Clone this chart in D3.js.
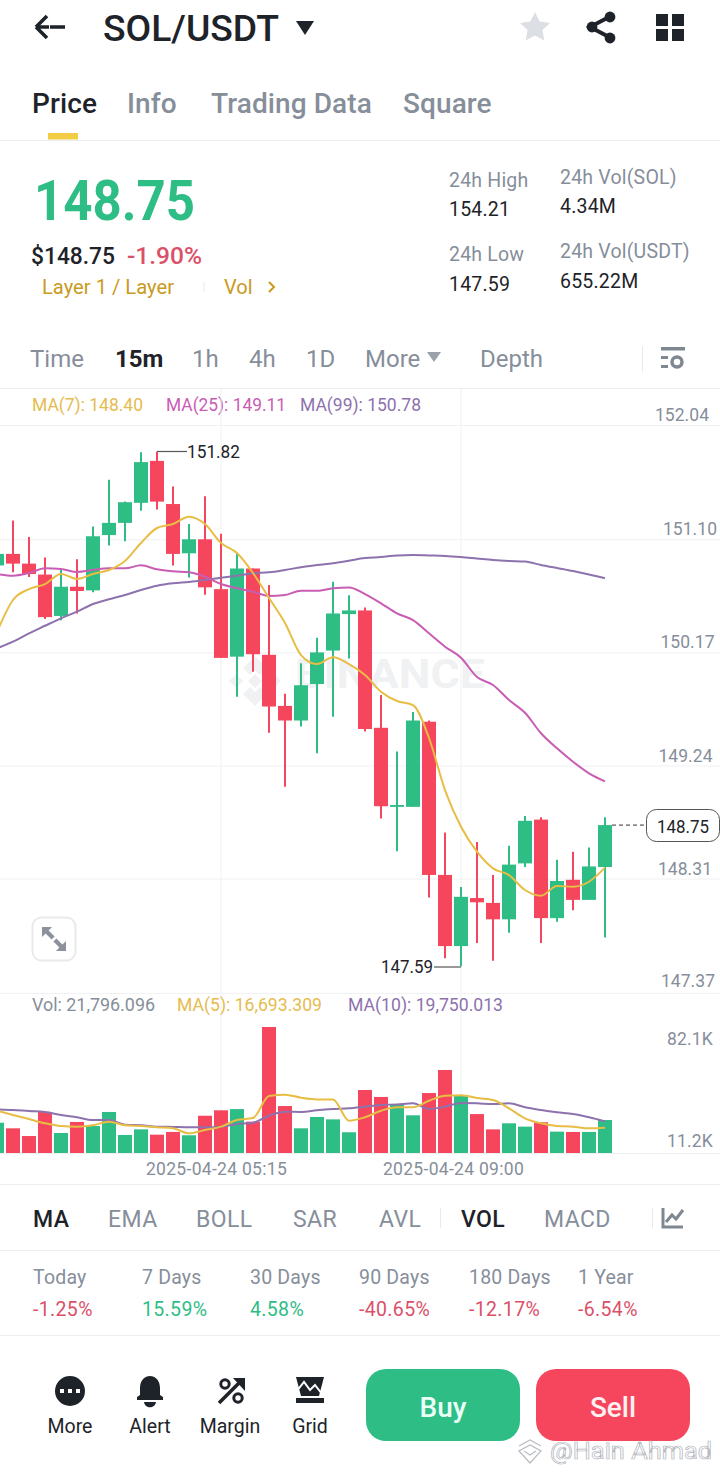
<!DOCTYPE html>
<html><head><meta charset="utf-8">
<script src="https://cdn.jsdelivr.net/npm/d3@7/dist/d3.min.js"></script>
<style>html,body{margin:0;padding:0;background:#fff}svg{display:block}text{font-family:Roboto,"Noto Sans",sans-serif}</style>
</head><body><svg id="c" width="720" height="1473"></svg>
<script>
const times=["01:45","02:00","02:15","02:30","02:45","03:00","03:15","03:30","03:45","04:00","04:15","04:30","04:45","05:00","05:15","05:30","05:45","06:00","06:15","06:30","06:45","07:00","07:15","07:30","07:45","08:00","08:15","08:30","08:45","09:00","09:15","09:30","09:45","10:00","10:15","10:30","10:45","11:00","11:15"];
const opens=[150.885,150.98,150.90,150.81,150.47,150.71,150.68,151.135,151.235,151.40,151.745,151.39,150.985,151.10,150.69,150.135,150.86,150.15,149.73,149.61,149.91,150.185,150.485,150.515,149.55,148.90,148.90,149.60,148.34,147.755,148.15,148.11,147.975,148.435,148.795,147.985,148.30,148.135,148.405];
const highs=[150.99,151.255,151.12,150.95,150.855,150.935,151.205,151.59,151.41,151.815,151.82,151.535,151.225,151.455,151.145,150.985,150.86,150.725,149.83,150.08,150.29,150.75,150.64,150.54,149.82,149.355,149.68,149.61,148.69,148.24,148.61,148.34,148.58,148.825,148.815,148.465,148.53,148.565,148.815];
const lows=[150.88,150.83,150.79,150.445,150.435,150.49,150.665,151.05,151.085,151.335,151.345,150.885,150.785,150.645,150.125,149.805,150.01,149.51,149.065,149.56,149.34,149.64,150.12,149.52,148.805,148.535,148.90,148.155,147.655,147.59,147.78,147.635,147.865,148.405,147.78,147.955,148.05,148.135,147.825];
const closes=[150.98,150.90,150.815,150.46,150.71,150.675,151.125,151.235,151.405,151.735,151.41,150.98,151.10,150.705,150.125,150.86,150.155,149.725,149.61,149.90,150.17,150.49,150.515,149.54,148.905,148.915,149.61,148.34,147.755,148.16,148.115,147.975,148.425,148.785,147.985,148.29,148.135,148.41,148.75];
const ma7=[150.338,150.601,150.691,150.732,150.815,150.774,150.815,150.848,150.922,151.07,151.193,151.226,151.286,151.226,151.07,150.987,150.823,150.617,150.412,150.148,150.074,150.13,150.074,149.984,149.847,149.77,149.737,149.466,149.038,148.736,148.531,148.394,148.339,148.216,148.169,148.249,148.243,148.284,148.40];
const ma25=[150.815,150.801,150.823,150.861,150.856,150.831,150.848,150.861,150.861,150.886,150.853,150.837,150.829,150.792,150.732,150.697,150.669,150.634,150.642,150.677,150.677,150.697,150.704,150.65,150.574,150.491,150.436,150.327,150.217,150.126,149.968,149.902,149.778,149.674,149.505,149.381,149.271,149.176,149.11];
const ma99=[150.204,150.258,150.327,150.389,150.45,150.505,150.568,150.607,150.642,150.683,150.718,150.738,150.749,150.765,150.784,150.801,150.82,150.829,150.848,150.87,150.889,150.903,150.924,150.946,150.954,150.967,150.971,150.967,150.963,150.954,150.942,150.93,150.922,150.917,150.889,150.864,150.839,150.811,150.78];
const vols=[20.0,16.3,11.2,27.1,13.2,20.5,17.8,27.1,11.9,15.6,12.1,13.9,11.7,24.6,28.2,29.0,20.7,83.2,31.0,16.3,23.8,22.2,13.7,41.6,37.0,32.3,24.9,39.6,54.8,37.6,25.7,15.6,19.6,17.4,20.3,14.1,13.9,13.9,21.8];
const volMa5=[27.9,25.1,22.4,19.6,17.8,17.4,18.3,20.7,18.3,17.8,17.0,16.3,13.0,15.2,17.4,21.8,23.1,37.6,38.5,36.5,35.4,35.4,21.3,23.6,27.9,30.2,30.2,34.5,37.8,38.1,36.3,35.0,29.5,22.9,19.6,17.8,17.4,16.3,16.7];
const volMa10=[28.8,28.4,27.7,27.1,25.1,23.6,21.8,21.8,18.7,18.3,17.4,17.2,17.0,17.0,17.4,19.1,20.0,24.6,27.3,27.1,28.2,29.0,29.5,30.6,31.7,32.1,32.8,29.0,30.6,33.0,32.8,32.3,32.8,30.2,28.4,26.9,25.7,23.6,20.9];
const priceTicks=[152.04,151.10,150.17,149.24,148.31,147.37];
const volTicks=[82.1,11.2];
const timeTicks=["05:15","09:00"];
const tabs=["Price","Info","Trading Data","Square"];
const intervals=["Time","15m","1h","4h","1D","More","Depth"];
const indicators=["MA","EMA","BOLL","SAR","AVL","VOL","MACD"];
const periods=["Today","7 Days","30 Days","90 Days","180 Days","1 Year"];
const returns=["-1.25%","15.59%","4.58%","-40.65%","-12.17%","-6.54%"];
const actions=["More","Alert","Margin","Grid"];

const G="#2ebd85",R="#f6465d",DK="#1e2329",GY="#868e9a",YL="#e5bc50",PK="#c95db3",PU="#8d72ae",LN="#f0f1f3";
const svg=d3.select("#c");
function T(x,y,s,o={}){const e=svg.append("text").attr("x",x).attr("y",y).text(s)
 .attr("font-size",o.size||20).attr("font-weight",o.w||400).attr("fill",o.c||DK)
 .attr("text-anchor",o.a||"start").attr("letter-spacing",o.ls||0);
 if(o.tl)e.attr("textLength",o.tl).attr("lengthAdjust","spacingAndGlyphs");
 return e;}
function L(x1,y1,x2,y2,c=LN,w=1){return svg.append("line").attr("x1",x1).attr("y1",y1).attr("x2",x2).attr("y2",y2).attr("stroke",c).attr("stroke-width",w);}
function P(d,f=DK,tx=0,ty=0){return svg.append("path").attr("d",d).attr("fill",f).attr("transform",`translate(${tx},${ty})`);}
function S(d,c=DK,w=2,tx=0,ty=0){return svg.append("path").attr("d",d).attr("fill","none").attr("stroke",c).attr("stroke-width",w).attr("transform",`translate(${tx},${ty})`);}

/* header */
S("M50 27 H65 M49 27 L36 27 M36 27 L47 16 M36 27 L47 38",DK,3.6);
T(103,41,"SOL/USDT",{size:36,w:500,tl:176});
P("M296 21 H314 L305 35 Z");
P("M535 12 l4.6 9.6 10.4 1.3 -7.6 7.2 2 10.4 -9.4 -5.1 -9.4 5.1 2 -10.4 -7.6 -7.2 10.4 -1.3 Z","#dcdfe4");
S("M611 16 L590 27 L611 38",DK,4);
[[610,17],[592,27],[610,38]].forEach(([a,b])=>svg.append("circle").attr("cx",a).attr("cy",b).attr("r",5.4).attr("fill",DK));
[[656,14],[672,14],[656,29],[672,29]].forEach(([a,b])=>svg.append("rect").attr("x",a).attr("y",b).attr("width",12).attr("height",12).attr("fill",DK));

const tabX=[32,127,211,403];
tabs.forEach((s,i)=>T(tabX[i],113,s,{size:28,w:500,c:i?GY:DK,ls:.1}));
svg.append("rect").attr("x",48).attr("y",133).attr("width",30).attr("height",6.5).attr("fill","#f2cc45");
L(0,140.5,720,140.5,"#eeeff1");

/* price block */
T(34,220,"148.75",{size:55,w:700,c:G,tl:161});
T(31,264,"$148.75",{size:24,w:500,tl:84});
T(127,264,"-1.90%",{size:23.5,w:500,c:"#db5069",tl:75});
T(42,294,"Layer 1 / Layer",{size:20,c:"#c99a1b",tl:132});
L(204,282,204,292,"#e6e8ea");
T(224,294,"Vol",{size:20,c:"#c99a1b"});
S("M269 282 L274 287 L269 292","#c99a1b",2);
[[449,187,"24h High",GY],[449,216,"154.21",DK],[449,261,"24h Low",GY],[449,291,"147.59",DK],
 [560,184,"24h Vol(SOL)",GY],[560,213,"4.34M",DK],[560,258,"24h Vol(USDT)",GY],[560,288,"655.22M",DK]]
 .forEach(([x,y,s,c])=>T(x,y,s,{size:19.5,c,ls:.2}));

/* interval row */
const intX=[30,115,192,249,306,365,480];
intervals.forEach((s,i)=>T(intX[i],367,s,{size:24,w:i==1?700:400,c:i==1?DK:GY}));
P("M427 352 H441 L434 362 Z","#9aa1ab");
L(642.5,346,642.5,372,"#e8eaec");
svg.append("rect").attr("x",661).attr("y",347).attr("width",24).attr("height",3.5).attr("fill","#7f8791");
svg.append("rect").attr("x",661).attr("y",356).attr("width",7).attr("height",3).attr("fill","#7f8791");
svg.append("rect").attr("x",661).attr("y",365).attr("width",7).attr("height",3).attr("fill","#7f8791");
svg.append("circle").attr("cx",677).attr("cy",362).attr("r",5).attr("fill","none").attr("stroke","#7f8791").attr("stroke-width",3.5);
L(0,388.5,720,388.5,"#eeeff1");

/* legends */
T(32,411,"MA(7): 148.40",{size:17.5,c:YL,tl:111});
T(166,411,"MA(25): 149.11",{size:17.5,c:PK,tl:120});
T(300,411,"MA(99): 150.78",{size:17.5,c:PU,tl:121});

/* scales */
const x=d3.scalePoint().domain(times).range([-3,605]);
const y=d3.scaleLinear().domain([147.37,152.04]).range([992.9,425]);
const yV=d3.scaleLinear().domain([0,83.2]).range([1153,1027]);
const bw=14;

/* vertical gridlines */
svg.append("g").selectAll("line").data(timeTicks).join("line")
 .attr("x1",d=>x(d)).attr("x2",d=>x(d)).attr("y1",389).attr("y2",1153).attr("stroke",LN);

/* watermark */
const wm=svg.append("g").attr("fill","#f0f1f3");
wm.append("path").attr("d","M255 656 L267 668 L260 675 L255 670 L250 675 L243 668 Z M236 674 L243 681 L236 688 L229 681 Z M274 674 L281 681 L274 688 L267 681 Z M255 674 L262 681 L255 688 L248 681 Z M243 694 L250 687 L255 692 L260 687 L267 694 L255 706 Z");
wm.append("text").attr("x",295).attr("y",688).text("BINANCE").attr("font-size",40).attr("font-weight",700).attr("textLength",190).attr("lengthAdjust","spacingAndGlyphs");

/* price axis */
const tickDx=[682,690,687.5,685.5,685,688];
const tickDy=[-4.5,-4.5,-4.5,-4,-4.5,-6.5];
const axP=d3.axisRight(y).tickValues(priceTicks).tickSize(720).tickFormat(d3.format(".2f"));
const gP=svg.append("g").call(axP);
gP.select(".domain").remove();
gP.selectAll("line").attr("stroke",LN);
gP.selectAll("text").attr("x",(d,i)=>tickDx[i]).attr("dy",(d,i)=>tickDy[i]).attr("text-anchor","middle").attr("font-size",17.5).attr("fill",GY).attr("letter-spacing",.05).style("font-family","Roboto");

/* candles */
const idx=d3.range(times.length);
const cg=svg.append("g");
cg.selectAll("line").data(idx).join("line")
 .attr("x1",i=>x(times[i])).attr("x2",i=>x(times[i])).attr("y1",i=>y(highs[i])).attr("y2",i=>y(lows[i]))
 .attr("stroke",i=>closes[i]>=opens[i]?G:R).attr("stroke-width",2);
cg.selectAll("rect").data(idx).join("rect")
 .attr("x",i=>x(times[i])-bw/2).attr("width",bw)
 .attr("y",i=>y(Math.max(opens[i],closes[i])))
 .attr("height",i=>Math.max(1.8,Math.abs(y(opens[i])-y(closes[i]))))
 .attr("fill",i=>closes[i]>=opens[i]?G:R);

/* MAs */
function maLine(arr,sc,c,w=2){
 const ln=d3.line().x((d,i)=>x(times[i])).y(d=>sc(d)).curve(d3.curveMonotoneX);
 svg.append("path").datum(arr).attr("d",ln).attr("fill","none").attr("stroke",c).attr("stroke-width",w);
}
maLine(ma99,y,PU);maLine(ma25,y,PK);maLine(ma7,y,"#e8bd44");

/* annotations */
L(157,451.5,187,451.5,"#555",1.2);
T(187,457.5,"151.82",{size:18,tl:53});
L(434,967,461,967,"#555",1.2);
T(381,973,"147.59",{size:18,tl:52});
svg.append("line").attr("x1",612).attr("x2",646).attr("y1",y(closes[38])).attr("y2",y(closes[38])).attr("stroke","#333").attr("stroke-dasharray","4 3");
svg.append("rect").attr("x",646.5).attr("y",809.5).attr("width",73).attr("height",32).attr("rx",10).attr("fill","#fff").attr("stroke","#555");
T(657,833,"148.75",{size:19,tl:52});

/* expand button */
svg.append("rect").attr("x",32.5).attr("y",917.5).attr("width",43).attr("height",43).attr("rx",9).attr("fill","#fff").attr("stroke","#e8eaec").attr("stroke-width",2);
P("M42 927 h10 l-3.4 3.4 6 6 -3 3 -6 -6 -3.6 3.6 Z M66 951 h-10 l3.4 -3.4 -6 -6 3 -3 6 6 3.6 -3.6 Z","#8b929c");

/* volume */
T(32,1011,"Vol: 21,796.096",{size:17.5,c:GY,tl:123});
T(177,1011,"MA(5): 16,693.309",{size:17.5,c:YL,tl:145});
T(348,1011,"MA(10): 19,750.013",{size:17.5,c:PU,tl:155});
svg.append("g").selectAll("rect").data(idx).join("rect")
 .attr("x",i=>x(times[i])-bw/2).attr("width",bw)
 .attr("y",i=>yV(vols[i])).attr("height",i=>yV(0)-yV(vols[i]))
 .attr("fill",i=>closes[i]>=opens[i]?G:R);
maLine(volMa10,yV,PU);maLine(volMa5,yV,"#e8bd44");
const volOff=[10.5,5];
const axV=d3.axisRight(yV).tickValues(volTicks).tickSize(0).tickFormat(d=>d3.format(".1f")(d)+"K");
const gV=svg.append("g").call(axV);
gV.select(".domain").remove();
gV.selectAll("text").attr("x",690).attr("dy",(d,i)=>0.32*17.5+volOff[i]).attr("text-anchor","middle").attr("font-size",17.5).attr("fill",GY).attr("letter-spacing",.2).style("font-family","Roboto");
L(0,1153.5,720,1153.5,"#eeeff1");
const timeOff=[-5,-8];
const axT=d3.axisBottom(x).tickValues(timeTicks).tickSize(0).tickFormat(d=>"2025-04-24 "+d);
const gT=svg.append("g").attr("transform","translate(0,1156)").call(axT);
gT.select(".domain").remove();
gT.selectAll("text").attr("dx",(d,i)=>timeOff[i]).attr("y",19).attr("dy",0).attr("font-size",17.5).attr("fill",GY).attr("letter-spacing",.3).style("font-family","Roboto");
L(0,1184.5,720,1184.5,"#eeeff1");

/* indicators */
const indX=[33,108,196,293,379,461,544];
indicators.forEach((s,i)=>{const on=(i==0||i==5);T(indX[i],1227,s,{size:23,w:on?500:400,c:on?DK:GY,ls:.4});});
L(440.5,1208,440.5,1228,"#e8eaec");
L(652.5,1208,652.5,1228,"#e8eaec");
S("M663 1208 V1227 H683 M666 1222 L672 1215 L676 1219 L683 1210","#7f8791",3);
L(0,1250.5,720,1250.5,"#eeeff1");

/* returns */
const perX=[33,142,250,359,469,578];
periods.forEach((s,i)=>T(perX[i],1284,s,{size:19.5,c:GY,ls:.2}));
returns.forEach((s,i)=>T(perX[i],1316,s,{size:19.5,c:s[0]=="-"?"#db5069":G,ls:.35}));
L(0,1335.5,720,1335.5,"#eeeff1");

/* bottom bar */
svg.append("circle").attr("cx",70).attr("cy",1391).attr("r",15).attr("fill",DK);
[62,70,78].forEach(a=>svg.append("rect").attr("x",a-2).attr("y",1389).attr("width",4).attr("height",4).attr("fill","#fff"));
P("M137 1400 h26 v-3 l-3 -2 v-7 c0 -16 -20 -16 -20 0 v7 l-3 2 Z M144 1402 h12 c-1 7 -11 7 -12 0 Z");
S("M219 1403 L243 1379",DK,3.6);P("M233 1378 H245 V1391 Z");
svg.append("circle").attr("cx",225).attr("cy",1384).attr("r",4.2).attr("fill","none").attr("stroke",DK).attr("stroke-width",3);
svg.append("circle").attr("cx",238).attr("cy",1398).attr("r",4.2).attr("fill","none").attr("stroke",DK).attr("stroke-width",3);
P("M296 1377 H324 L319 1396 H301 Z");
S("M296 1392 L304 1382 L310 1390 L315 1385 L322 1394","#fff",2);
svg.append("rect").attr("x",296).attr("y",1398).attr("width",28).attr("height",5).attr("fill",DK);
const actX=[70,150,230,310];
actions.forEach((s,i)=>T(actX[i],1433,s,{size:19.5,a:"middle"}));
svg.append("rect").attr("x",366).attr("y",1369).attr("width",154).attr("height",72).attr("rx",20).attr("fill",G);
svg.append("rect").attr("x",536).attr("y",1369).attr("width",154).attr("height",72).attr("rx",20).attr("fill",R);
T(443,1417,"Buy",{size:28,w:500,c:"#eafff6",a:"middle"});
T(613,1417,"Sell",{size:28,w:500,c:"#fff0f2",a:"middle"});
S("M519 1446 L530 1440 L541 1446 M519 1451 L530 1463 L541 1451 L530 1445 Z M524 1451 L530 1455 L536 1451","#b8bcc2",1.2);
svg.append("text").attr("x",550).attr("y",1459).text("@Hain Ahmad").attr("font-size",24).attr("fill","#fff").attr("stroke","#b0b4ba").attr("stroke-width",.7).attr("textLength",162).attr("lengthAdjust","spacingAndGlyphs");
</script></body></html>
